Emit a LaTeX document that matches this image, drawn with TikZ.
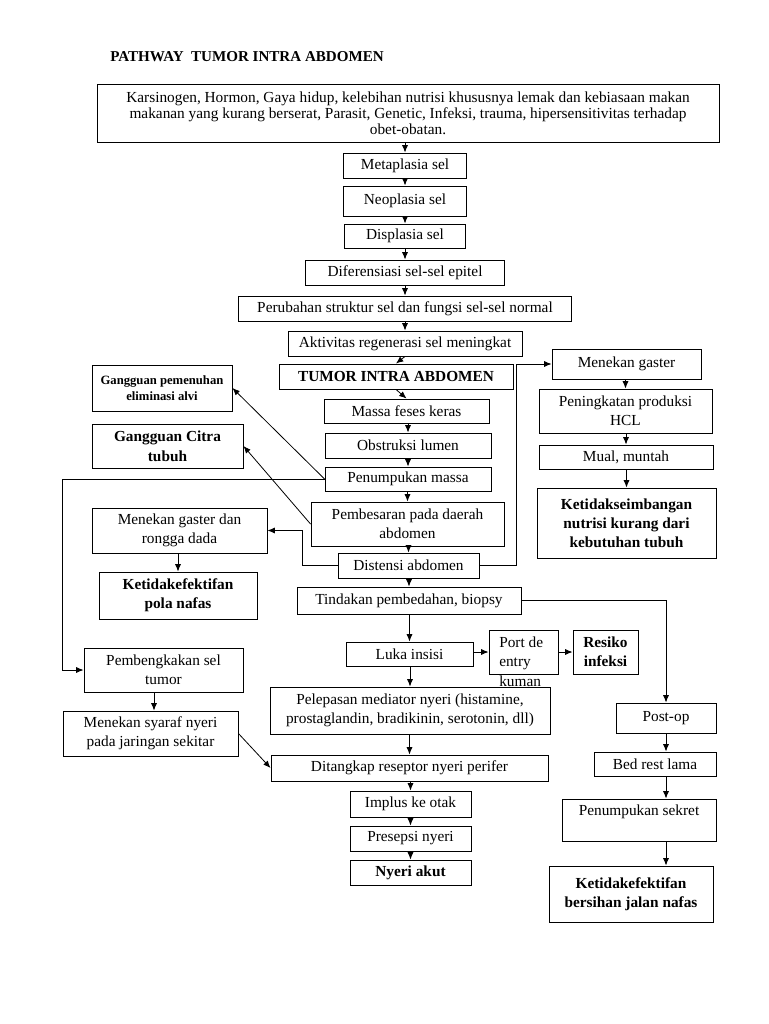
\documentclass[tikz,border=0pt]{standalone}
\usepackage{fontspec}
\setmainfont{Liberation Serif}
\usetikzlibrary{arrows.meta,calc}
\begin{document}
\begin{tikzpicture}[x=0.75pt,y=-0.75pt,
  box/.style={draw, line width=0.7pt, inner sep=0pt, align=center, font=\fontsize{11.5}{14.3}\selectfont},
  bbox/.style={box, font=\fontsize{11.5}{14.3}\selectfont\bfseries},
  sz/.style 2 args={minimum width=#1*0.75pt, minimum height=#2*0.75pt},
  arr/.style={-{Latex[length=5.5pt,width=4.5pt]}, line width=0.6pt},
  ln/.style={line width=0.6pt}]
\useasboundingbox (0,0) rectangle (768,1024);

\node[anchor=west, inner sep=0pt, font=\fontsize{11.3}{13}\selectfont\bfseries] (title) at (110,57) {PATHWAY\ \ TUMOR INTRA ABDOMEN};

\node[box, sz={622}{58}, font=\fontsize{11.5}{12}\selectfont] (b1) at (408,113) {Karsinogen, Hormon, Gaya hidup, kelebihan nutrisi khususnya lemak dan kebiasaan makan\\makanan yang kurang berserat, Parasit, Genetic, Infeksi, trauma, hipersensitivitas terhadap\\obet-obatan.};

\node[box, sz={123}{25}] (meta) at (405,165.5) {Metaplasia sel};
\node[box, sz={123}{30}] (neo) at (405,201) {Neoplasia sel};
\node[box, sz={121}{24}] (disp) at (405,236) {Displasia sel};
\node[box, sz={199}{25}] (dif) at (405,272.5) {Diferensiasi sel-sel epitel};
\node[box, sz={333}{25}] (perub) at (405,308.5) {Perubahan struktur sel dan fungsi sel-sel normal};
\node[box, sz={234}{25}] (aktiv) at (405,343.5) {Aktivitas regenerasi sel meningkat};
\node[bbox, sz={234}{25}] (tumor) at (396,376.5) {TUMOR INTRA ABDOMEN};
\node[box, sz={165}{24}] (massa) at (406.5,411) {Massa feses keras};
\node[box, sz={166}{25}] (obstr) at (408,445.5) {Obstruksi lumen};
\node[box, sz={166}{24}] (penum) at (408,479) {Penumpukan massa};
\node[box, sz={193}{44}] (pemb) at (407.5,524) {Pembesaran pada daerah\\abdomen};
\node[box, sz={141}{25}] (dist) at (408.5,565.5) {Distensi abdomen};
\node[box, sz={224}{27}] (tind) at (409,600.5) {Tindakan pembedahan, biopsy};
\node[box, sz={127}{24}] (luka) at (409.5,654) {Luka insisi};
\node[box, sz={69}{44}] (port) at (523.5,652) {};
\node[anchor=north west, inner sep=0pt, align=left, font=\fontsize{11.5}{14.3}\selectfont] (porttxt) at (499,637) {Port de\\entry\\kuman};
\node[bbox, sz={65}{44}] (resiko) at (605.5,652) {Resiko\\infeksi};
\node[box, sz={280}{47}] (pelep) at (410,710.5) {Pelepasan mediator nyeri (histamine,\\prostaglandin, bradikinin, serotonin, dll)};
\node[box, sz={277}{26}] (ditang) at (409.5,768) {Ditangkap reseptor nyeri perifer};
\node[box, sz={121}{26}] (impl) at (410.5,804) {Implus ke otak};
\node[box, sz={121}{25}] (pres) at (410.5,838.5) {Presepsi nyeri};
\node[bbox, sz={121}{25}] (nyeri) at (410.5,872.5) {Nyeri akut};

\node[box, sz={149}{30}] (mg) at (626.5,364) {Menekan gaster};
\node[box, sz={173}{44}] (hcl) at (625.5,411) {Peningkatan produksi\\HCL};
\node[box, sz={174}{24}] (mual) at (626,457) {Mual, muntah};
\node[bbox, sz={179}{70}] (kseimb) at (626.5,523) {Ketidakseimbangan\\nutrisi kurang dari\\kebutuhan tubuh};

\node[box, sz={140}{46}, font=\fontsize{9.5}{12}\selectfont\bfseries] (elim) at (162,388) {Gangguan pemenuhan\\eliminasi alvi};
\node[bbox, sz={151}{44}, font=\fontsize{11.5}{15}\selectfont\bfseries] (citra) at (167.5,446) {Gangguan Citra\\tubuh};
\node[box, sz={175}{45}] (mgd) at (179.5,530.5) {Menekan gaster dan\\rongga dada};
\node[bbox, sz={158}{47}] (kpola) at (178,595.5) {Ketidakefektifan\\pola nafas};
\node[box, sz={159}{44}] (pembeng) at (163.5,670) {Pembengkakan sel\\tumor};
\node[box, sz={175}{45}] (syaraf) at (150.5,733.5) {Menekan syaraf nyeri\\pada jaringan sekitar};

\node[box, sz={100}{30}] (postop) at (666,718) {Post-op};
\node[box, sz={122}{24}] (bed) at (655,764) {Bed rest lama};
\node[box, sz={154}{42}] (sekret) at (639,820) {Penumpukan sekret\\[-4pt]\strut};
\node[bbox, sz={164}{56}] (kbersih) at (631,894) {Ketidakefektifan\\bersihan jalan nafas};

% central chain
\draw[arr] (b1.south -| meta.north) -- (meta.north);
\draw[arr] (meta.south -| neo.north) -- (neo.north);
\draw[arr] (neo.south -| disp.north) -- (disp.north);
\draw[arr] (disp.south -| dif.north) -- (dif.north);
\draw[arr] (dif.south -| perub.north) -- (perub.north);
\draw[arr] (perub.south -| aktiv.north) -- (aktiv.north);
\draw[arr] (aktiv.south) -- (tumor.north);
\draw[arr] (tumor.south) -- (massa.north);
\draw[arr] (massa.south -| obstr.north) -- (obstr.north);
\draw[arr] (obstr.south -| penum.north) -- (penum.north);
\draw[arr] (penum.south -| pemb.north) -- (pemb.north);
\draw[arr] (pemb.south -| dist.north) -- (dist.north);
\draw[arr] (dist.south -| tind.north) -- (tind.north);
\draw[arr] (tind.south -| luka.north) -- (luka.north);
\draw[arr] (luka.south -| pelep.north) -- (pelep.north);
\draw[arr] (pelep.south -| ditang.north) -- (ditang.north);
\draw[arr] (ditang.south -| impl.north) -- (impl.north);
\draw[arr] (impl.south -| pres.north) -- (pres.north);
\draw[arr] (pres.south -| nyeri.north) -- (nyeri.north);

% port de entry
\draw[arr] (luka.east |- port.west) -- (port.west);
\draw[arr] (port.east) -- (resiko.west);

% right branch
\draw[arr] (dist.east) -- ++(37,0) |- (mg.west);
\draw[arr] (mg.south -| hcl.north) -- (hcl.north);
\draw[arr] (hcl.south -| mual.north) -- (mual.north);
\draw[arr] (mual.south -| kseimb.north) -- (kseimb.north);

% left branch
\draw[arr] (penum.west) -- (elim.east);
\draw[arr] (pemb.west) -- (citra.east);
\coordinate (lcorner) at (62,479);
\draw[arr] (penum.west) -- (penum.west -| lcorner) |- (pembeng.west);
\draw[arr] (dist.west) -- ++(-35,0) |- (mgd.east);
\draw[arr] (mgd.south -| kpola.north) -- (kpola.north);
\coordinate (pbs) at ($(pembeng.south)+(-9.5,0)$);
\draw[arr] (pbs) -- (pbs |- syaraf.north);
\draw[arr] (syaraf.east) -- (ditang.west);

% post-op branch
\draw[arr] (tind.east) -| (postop.north);
\draw[arr] (postop.south) -- (postop.south |- bed.north);
\draw[arr] (postop.south |- bed.south) -- (postop.south |- sekret.north);
\draw[arr] (postop.south |- sekret.south) -- (postop.south |- kbersih.north);
\end{tikzpicture}
\end{document}
